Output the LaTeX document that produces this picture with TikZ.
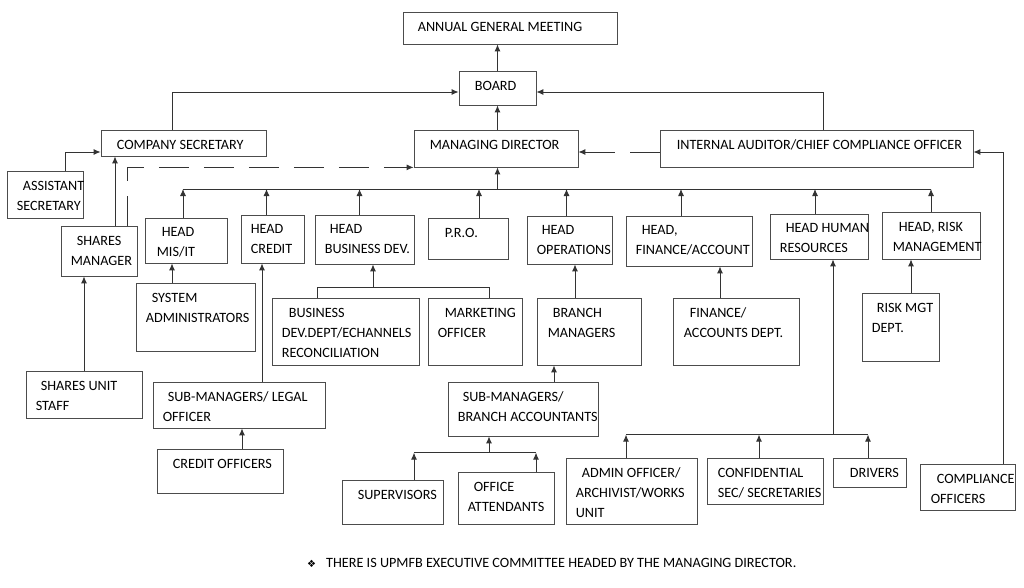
\documentclass[tikz,border=0pt]{standalone}
\usepackage{fontspec}
\setmainfont{Carlito}
\newfontfamily\symfont{DejaVu Sans}
\usetikzlibrary{arrows.meta, positioning, fit}
\tikzset{
    box/.style={draw=black!70, line width=0.8pt, inner sep=0pt},
    lbl/.style={anchor=north west, inner sep=0pt, align=left, xshift=#1, yshift=-10pt, text=black, font=\fontsize{14.2}{20}\selectfont},
    lbl/.default=10pt,
    link/.style={line width=0.9pt, black!80},
    arrow/.style={-{Latex[length=7pt, width=6pt]}, line width=0.9pt, black!80},
    dasharrow/.style={arrow, dash pattern=on 30pt off 15pt}
}

\begin{document}
\begin{tikzpicture}[x=1pt, y=-1pt]
    \useasboundingbox (0,0) rectangle (1024,587);

    % top of the organisation
    \node [box, fit={(403,12) (617,44)}, label={[lbl=15pt]north west:{ANNUAL GENERAL MEETING}}] (agm) {};
    \node [box, fit={(459,71) (536,105)}, label={[lbl=16pt]north west:{BOARD}}] (board) {};
    \node [box, fit={(101,130) (266,156)}, label={[lbl=16pt]north west:{COMPANY SECRETARY}}] (cosec) {};
    \node [box, fit={(414,130) (578,167)}, label={[lbl=16pt]north west:{MANAGING DIRECTOR}}] (md) {};
    \node [box, fit={(660,130) (973,167)}, label={[lbl=17pt]north west:{INTERNAL AUDITOR/CHIEF COMPLIANCE OFFICER}}] (ia) {};

    % secretary side
    \node [box, fit={(7,171) (83,218)}, label={[lbl]north west:{\hspace*{6pt}ASSISTANT\\SECRETARY}}] (asst) {};
    \node [box, fit={(61,226) (137,276)}, label={[lbl]north west:{\hspace*{6pt}SHARES\\MANAGER}}] (shm) {};
    \node [box, fit={(26,371) (142,418)}, label={[lbl]north west:{\hspace*{5pt}SHARES UNIT\\STAFF}}] (suu) {};

    % heads of departments
    \node [box, fit={(145,218) (227,263)}, label={[lbl=12pt]north west:{\hspace*{5pt}HEAD\\MIS/IT}}] (mis) {};
    \node [box, fit={(241,215) (304,263)}, label={[lbl]north west:{HEAD\\CREDIT}}] (hcr) {};
    \node [box, fit={(315,215) (414,264)}, label={[lbl]north west:{\hspace*{5pt}HEAD\\BUSINESS DEV.}}] (hbd) {};
    \node [box, fit={(428,218) (508,259)}, label={[lbl=17pt]north west:{P.R.O.}}] (pro) {};
    \node [box, fit={(527,216) (612,264)}, label={[lbl]north west:{\hspace*{5pt}HEAD\\OPERATIONS}}] (hop) {};
    \node [box, fit={(626,216) (752,266)}, label={[lbl]north west:{\hspace*{6pt}HEAD,\\FINANCE/ACCOUNT}}] (hfa) {};
    \node [box, fit={(770,214) (868,259)}, label={[lbl]north west:{\hspace*{6pt}HEAD HUMAN\\RESOURCES}}] (hhr) {};
    \node [box, fit={(882,212) (980,259)}, label={[lbl=11pt]north west:{\hspace*{6pt}HEAD, RISK\\MANAGEMENT}}] (hrm) {};

    % units under the heads
    \node [box, fit={(136,283) (255,351)}, label={[lbl]north west:{\hspace*{6pt}SYSTEM\\ADMINISTRATORS}}] (sys) {};
    \node [box, fit={(272,298) (419,365)}, label={[lbl]north west:{\hspace*{7pt}BUSINESS\\DEV.DEPT/ECHANNELS\\RECONCILIATION}}] (bdd) {};
    \node [box, fit={(428,298) (522,365)}, label={[lbl]north west:{\hspace*{7pt}MARKETING\\OFFICER}}] (mkt) {};
    \node [box, fit={(537,298) (641,365)}, label={[lbl=11pt]north west:{\hspace*{5pt}BRANCH\\MANAGERS}}] (brm) {};
    \node [box, fit={(673,298) (799,365)}, label={[lbl=11pt]north west:{\hspace*{6pt}FINANCE/\\ACCOUNTS DEPT.}}] (fad) {};
    \node [box, fit={(862,293) (939,361)}, label={[lbl]north west:{\hspace*{5pt}RISK MGT\\DEPT.}}] (rmd) {};
    \node [box, fit={(153,382) (325,428)}, label={[lbl]north west:{\hspace*{5pt}SUB-MANAGERS/ LEGAL\\OFFICER}}] (sml) {};
    \node [box, fit={(157,449) (283,493)}, label={[lbl=16pt]north west:{CREDIT OFFICERS}}] (cro) {};
    \node [box, fit={(448,382) (598,436)}, label={[lbl]north west:{\hspace*{5pt}SUB-MANAGERS/\\BRANCH ACCOUNTANTS}}] (sba) {};
    \node [box, fit={(342,480) (443,524)}, label={[lbl=16pt]north west:{SUPERVISORS}}] (sup) {};
    \node [box, fit={(458,472) (554,524)}, label={[lbl]north west:{\hspace*{6pt}OFFICE\\ATTENDANTS}}] (ofa) {};
    \node [box, fit={(566,458) (697,524)}, label={[lbl]north west:{\hspace*{6pt}ADMIN OFFICER/\\ARCHIVIST/WORKS\\UNIT}}] (adm) {};
    \node [box, fit={(707,458) (823,504)}, label={[lbl=11pt]north west:{CONFIDENTIAL\\SEC/ SECRETARIES}}] (con) {};
    \node [box, fit={(833,458) (906,487)}, label={[lbl=17pt]north west:{DRIVERS}}] (drv) {};
    \node [box, fit={(920,464) (1015,510)}, label={[lbl=11pt]north west:{\hspace*{6pt}COMPLIANCE\\OFFICERS}}] (cmp) {};

    \node [anchor=west, inner sep=0pt, text=black, font=\fontsize{14.2}{16}\selectfont] (note) at (307,563) {{\symfont\fontsize{10}{12}\selectfont ❖}\hspace{10pt}THERE IS UPMFB EXECUTIVE COMMITTEE HEADED BY THE MANAGING DIRECTOR.};

    \coordinate (bus) at (0,189);

    % reporting lines at the top
    \draw [arrow] (board.north) -- (board.north |- agm.south);
    \draw [arrow] (board.south |- md.north) -- (board.south);
    \draw [arrow] ([xshift=-11.5pt]cosec.north) |- ([yshift=-4pt]board.west);
    \draw [arrow] ([xshift=6.5pt]ia.north) |- ([yshift=-4pt]board.east);
    \draw [arrow] ([xshift=20pt]asst.north) |- ([yshift=-9pt]cosec.west);
    \draw [arrow] ([xshift=16pt]shm.north) -- ([xshift=16pt]shm.north |- cosec.south);
    \draw [dasharrow] ([xshift=28pt]shm.north) |- (md.south west);
    \draw [dasharrow] ([yshift=-3.5pt]ia.west) -- ([yshift=-3.5pt]md.east);
    \draw [arrow] ([xshift=35.5pt]cmp.north) |- ([yshift=-3.5pt]ia.east);
    \draw [arrow] (suu.north) -- (suu.north |- shm.south);

    % heads to the managing director
    \draw [link] ([xshift=-3pt]mis.north |- bus) -- (hrm.north |- bus);
    \draw [arrow] (board.south |- bus) -- (board.south |- md.south);
    \draw [arrow] ([xshift=-3pt]mis.north) -- ([xshift=-3pt]mis.north |- bus);
    \draw [arrow] ([xshift=-6pt]hcr.north) -- ([xshift=-6pt]hcr.north |- bus);
    \draw [arrow] ([xshift=-5pt]hbd.north) -- ([xshift=-5pt]hbd.north |- bus);
    \draw [arrow] ([xshift=11pt]pro.north) -- ([xshift=11pt]pro.north |- bus);
    \draw [arrow] ([xshift=-3pt]hop.north) -- ([xshift=-3pt]hop.north |- bus);
    \draw [arrow] ([xshift=-8pt]hfa.north) -- ([xshift=-8pt]hfa.north |- bus);
    \draw [arrow] ([xshift=-4pt]hhr.north) -- ([xshift=-4pt]hhr.north |- bus);
    \draw [arrow] (hrm.north) -- (hrm.north |- bus);

    % units to their heads
    \draw [arrow] ([xshift=-23.5pt]sys.north) -- ([xshift=-23.5pt]sys.north |- mis.south);
    \draw [arrow] ([xshift=23pt]sml.north) -- ([xshift=23pt]sml.north |- hcr.south);
    \draw [arrow] ([xshift=22pt]cro.north) -- ([xshift=22pt]cro.north |- sml.south);
    \draw [link] ([xshift=-28.5pt]bdd.north) -- ++(0,-10) -| ([xshift=14pt]mkt.north);
    \draw [arrow] ([xshift=8.5pt,yshift=10pt]hbd.south |- bdd.north) -- ([xshift=8.5pt]hbd.south);
    \draw [arrow] ([xshift=-14pt]brm.north) -- ([xshift=-14pt]brm.north |- hop.south);
    \draw [arrow] ([xshift=31pt]sba.north) -- ([xshift=31pt]sba.north |- brm.south);
    \draw [link] ([xshift=21.5pt,yshift=19pt]sup.north |- ofa.north) -- ([xshift=30pt,yshift=19pt]ofa.north);
    \draw [arrow] ([xshift=21.5pt]sup.north) -- ([xshift=21.5pt,yshift=19pt]sup.north |- ofa.north);
    \draw [arrow] ([xshift=30pt]ofa.north) -- ([xshift=30pt,yshift=19pt]ofa.north);
    \draw [arrow] ([xshift=-34pt,yshift=19pt]sba.south |- ofa.north) -- ([xshift=-34pt]sba.south);
    \draw [arrow] ([xshift=-16pt]fad.north) -- ([xshift=-16pt]fad.north |- hfa.south);
    \draw [arrow] ([xshift=10.5pt]rmd.north) -- ([xshift=10.5pt]rmd.north |- hrm.south);

    % human resources staff
    \draw [link] ([xshift=-5.5pt,yshift=23pt]adm.north) -- ([xshift=-1.5pt,yshift=23pt]drv.north);
    \draw [arrow] ([xshift=14pt,yshift=23pt]hhr.south |- adm.north) -- ([xshift=14pt]hhr.south);
    \draw [arrow] ([xshift=-5.5pt]adm.north) -- ([xshift=-5.5pt,yshift=23pt]adm.north);
    \draw [arrow] ([xshift=-6pt]con.north) -- ([xshift=-6pt,yshift=23pt]con.north);
    \draw [arrow] ([xshift=-1.5pt]drv.north) -- ([xshift=-1.5pt,yshift=23pt]drv.north);
\end{tikzpicture}
\end{document}
